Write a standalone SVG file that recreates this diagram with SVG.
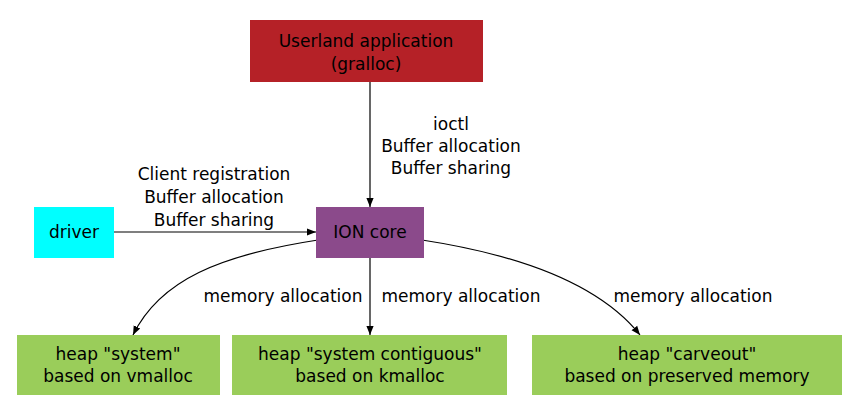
<svg xmlns="http://www.w3.org/2000/svg" width="859" height="415" viewBox="0 0 859 415">
<style>
text{font-family:"DejaVu Sans",sans-serif;font-size:17px;text-anchor:middle;fill:#000}
.e{fill:none;stroke:#000;stroke-width:1.2}
</style>
<defs><marker id="a" viewBox="0 0 10 10" refX="10" refY="5" markerWidth="9" markerHeight="9" orient="auto" markerUnits="userSpaceOnUse"><path d="M0,1 L10,5 L0,9 z" fill="#000"/></marker></defs>
<rect width="859" height="415" fill="#fff"/>
<g id="connectors">
<path class="e" d="M370,82 L370,207" marker-end="url(#a)"/>
<text x="451" y="130">ioctl</text><text x="451" y="152">Buffer allocation</text><text x="451" y="174">Buffer sharing</text>
<path class="e" d="M114,232 L316,232" marker-end="url(#a)"/>
<text x="214" y="180">Client registration</text><text x="214" y="203">Buffer allocation</text><text x="214" y="226">Buffer sharing</text>
<path class="e" d="M318,240 C220,255 160,280 133,335" marker-end="url(#a)"/>
<path class="e" d="M370,258 L370,335" marker-end="url(#a)"/>
<path class="e" d="M422,240 C520,255 600,285 640,335" marker-end="url(#a)"/>
<text x="283" y="302">memory allocation</text><text x="461" y="302">memory allocation</text><text x="693" y="302">memory allocation</text>
</g>
<g id="userland"><rect x="250" y="20" width="233" height="62" fill="#b52127"/><text x="366" y="47">Userland application</text><text x="366" y="70">(gralloc)</text></g>
<g id="driver"><rect x="34" y="207" width="80" height="51" fill="#00ffff"/><text x="74" y="238">driver</text></g>
<g id="ion"><rect x="316" y="207" width="108" height="51" fill="#8b4a8b"/><text x="370" y="238">ION core</text></g>
<g id="h1"><rect x="17" y="335" width="203" height="60" fill="#9acd5a"/><text x="118" y="360">heap "system"</text><text x="118" y="382">based on vmalloc</text></g>
<g id="h2"><rect x="232" y="335" width="275" height="60" fill="#9acd5a"/><text x="370" y="360">heap "system contiguous"</text><text x="370" y="382">based on kmalloc</text></g>
<g id="h3"><rect x="532" y="335" width="310" height="60" fill="#9acd5a"/><text x="687" y="360">heap "carveout"</text><text x="687" y="382">based on preserved memory</text></g>
</svg>
